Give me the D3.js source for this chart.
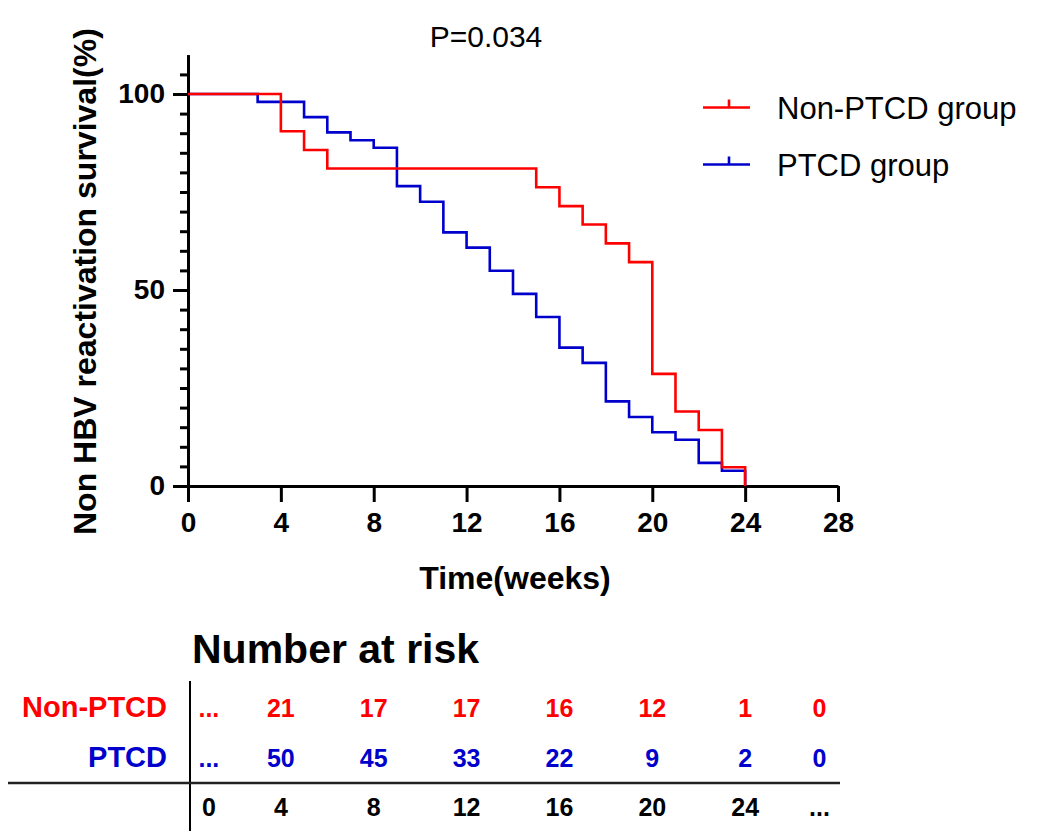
<!DOCTYPE html>
<html>
<head>
<meta charset="utf-8">
<script src="https://cdn.jsdelivr.net/npm/d3@7"></script>
<style>
  body { margin: 0; background: #fff; }
  svg text { font-family: "Liberation Sans", Arial, sans-serif; }
</style>
</head>
<body>
<div id="chart"></div>
<script>
// Kaplan-Meier steps (weeks, survival %)
var nonPtcdTimes = [0, 4, 5, 6, 15, 16, 17, 18, 19, 20, 21, 22, 23, 24];
var nonPtcdSurv  = [100, 90.5, 85.7, 81.0, 76.2, 71.4, 66.7, 61.9, 57.1, 28.6, 19.0, 14.3, 4.8, 0];

var ptcdTimes = [0, 3, 5, 6, 7, 8, 9, 10, 11, 12, 13, 14, 15, 16, 17, 18, 19, 20, 21, 22, 23, 24];
var ptcdSurv  = [100, 98.0, 94.1, 90.2, 88.2, 86.3, 76.5, 72.5, 64.7, 60.8, 54.9, 49.0, 43.1, 35.3, 31.4, 21.6, 17.6, 13.7, 11.8, 5.9, 3.9, 0];

var groupNames = ["Non-PTCD group", "PTCD group"];
var rowLabels = ["Non-PTCD", "PTCD"];

// number at risk table
var nonPtcdRisk = ["...", "21", "17", "17", "16", "12", "1", "0"];
var ptcdRisk    = ["...", "50", "45", "33", "22", "9", "2", "0"];
var timeRow     = ["0", "4", "8", "12", "16", "20", "24", "..."];

var xTicks = [0, 4, 8, 12, 16, 20, 24, 28];
var yMajor = [0, 50, 100];

var red = "#ff0000", blue = "#0000cc";

var width = 1037, height = 839;

var svg = d3.select("#chart")
  .append("svg")
    .attr("width", width)
    .attr("height", height);

var x = d3.scaleLinear().domain([0, 28]).range([188, 838]);
var y = d3.scaleLinear().domain([0, 110]).range([486, 54.8]);

// x axis
var xAxis = svg.append("g")
  .attr("transform", "translate(0," + y(0) + ")")
  .call(d3.axisBottom(x).tickValues(xTicks).tickSize(16).tickSizeOuter(0).tickPadding(10));
xAxis.selectAll("text")
  .attr("font-size", 28).attr("font-weight", "bold").attr("fill", "#000")
  .style("font-family", '"Liberation Sans", Arial, sans-serif');

// y axis minor + major
var yMinor = d3.range(5, 110, 5).filter(function(d) { return yMajor.indexOf(d) < 0; });
svg.append("g")
  .attr("transform", "translate(" + x(0) + ",0)")
  .call(d3.axisLeft(y).tickValues(yMinor).tickSize(8).tickSizeOuter(0).tickFormat(""));
var yAxis = svg.append("g")
  .attr("transform", "translate(" + x(0) + ",0)")
  .call(d3.axisLeft(y).tickValues(yMajor).tickSize(15).tickSizeOuter(0).tickPadding(8));
yAxis.selectAll("text")
  .attr("font-size", 28).attr("font-weight", "bold").attr("fill", "#000")
  .style("font-family", '"Liberation Sans", Arial, sans-serif');

svg.selectAll(".domain, .tick line")
  .attr("stroke", "#000")
  .attr("stroke-width", 3);

// curves
var line = d3.line()
  .x(function(d) { return x(d[0]); })
  .y(function(d) { return y(d[1]); })
  .curve(d3.curveStepAfter);

var series = [
  {name: groupNames[1], color: blue, pts: d3.zip(ptcdTimes, ptcdSurv)},
  {name: groupNames[0], color: red, pts: d3.zip(nonPtcdTimes, nonPtcdSurv)}
];

svg.selectAll(".km")
  .data(series)
  .enter().append("path")
    .attr("class", "km")
    .attr("d", function(d) { return line(d.pts); })
    .attr("fill", "none")
    .attr("stroke", function(d) { return d.color; })
    .attr("stroke-width", 2.6);

// title
svg.append("text")
  .attr("x", 486).attr("y", 47)
  .attr("text-anchor", "middle")
  .attr("font-size", 30)
  .text("P=0.034");

// axis labels
svg.append("text")
  .attr("x", 515).attr("y", 589)
  .attr("text-anchor", "middle")
  .attr("font-size", 32).attr("font-weight", "bold")
  .text("Time(weeks)");

svg.append("text")
  .attr("transform", "translate(96,535) rotate(-90)")
  .attr("font-size", 32).attr("font-weight", "bold")
  .text("Non HBV reactivation survival(%)");

// legend
var legend = svg.selectAll(".legend")
  .data([{name: groupNames[0], color: red}, {name: groupNames[1], color: blue}])
  .enter().append("g")
    .attr("class", "legend")
    .attr("transform", function(d, i) { return "translate(703," + (107.5 + i * 57) + ")"; });
legend.append("line")
  .attr("x1", 0).attr("x2", 47).attr("y1", 0).attr("y2", 0)
  .attr("stroke", function(d) { return d.color; }).attr("stroke-width", 2.6);
legend.append("line")
  .attr("x1", 26).attr("x2", 26).attr("y1", -8).attr("y2", 0)
  .attr("stroke", function(d) { return d.color; }).attr("stroke-width", 2.6);
legend.append("text")
  .attr("x", 74).attr("y", 11)
  .attr("font-size", 31)
  .text(function(d) { return d.name; });

// number at risk
svg.append("text")
  .attr("x", 192).attr("y", 663)
  .attr("font-size", 41).attr("font-weight", "bold")
  .text("Number at risk");

var colWeeks = [0.9, 4, 8, 12, 16, 20, 24, 27.2];
var rows = [
  {label: rowLabels[0], color: red, vals: nonPtcdRisk, y: 717},
  {label: rowLabels[1], color: blue, vals: ptcdRisk, y: 767},
  {label: "", color: "#000", vals: timeRow, y: 816}
];

rows.forEach(function(r) {
  svg.append("text")
    .attr("x", 167).attr("y", r.y)
    .attr("text-anchor", "end")
    .attr("font-size", 29).attr("font-weight", "bold")
    .attr("fill", r.color)
    .text(r.label);
  svg.selectAll(null)
    .data(r.vals)
    .enter().append("text")
      .attr("x", function(d, i) { return x(colWeeks[i]); })
      .attr("y", r.y)
      .attr("text-anchor", "middle")
      .attr("font-size", 25).attr("font-weight", "bold")
      .attr("fill", r.color)
      .text(function(d) { return d; });
});

svg.append("line")
  .attr("x1", 190).attr("x2", 190).attr("y1", 681).attr("y2", 831)
  .attr("stroke", "#000").attr("stroke-width", 2);
svg.append("line")
  .attr("x1", 8).attr("x2", 840).attr("y1", 783).attr("y2", 783)
  .attr("stroke", "#222").attr("stroke-width", 2.5);
</script>
</body>
</html>
